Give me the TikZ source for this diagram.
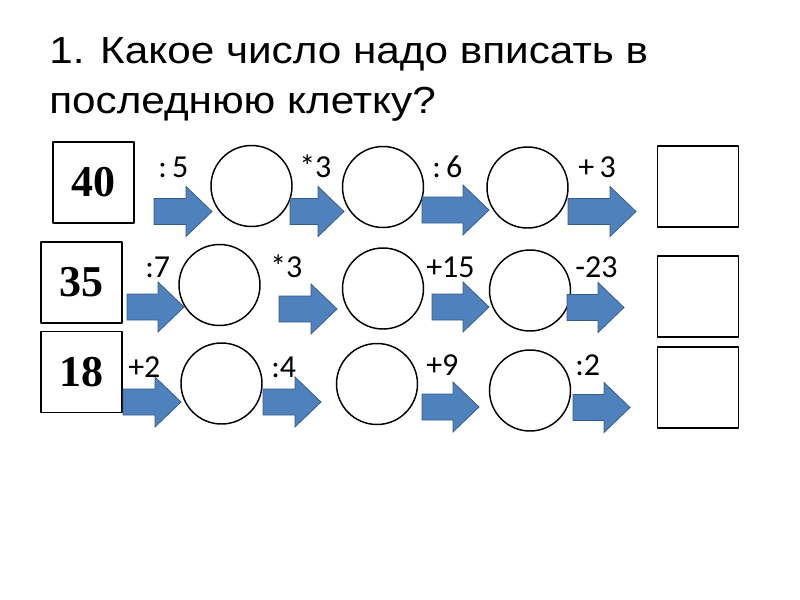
\documentclass[tikz,border=0pt]{standalone}
\usepackage{fontspec}
\setmainfont{Carlito}
\newfontfamily\titlefont{Liberation Sans}
\newfontfamily\numfont{Liberation Serif}
\definecolor{arrowblue}{HTML}{4F81BD}
\definecolor{arrowedge}{HTML}{385D8A}
\tikzset{
	ring/.style={circle, draw, line width=1.1pt, minimum size=60.75pt, inner sep=0pt},
	cell/.style={rectangle, draw, line width=1.1pt, minimum size=60.75pt, inner sep=0pt},
	startcell/.style={cell, font=\numfont\bfseries\fontsize{33}{33}\selectfont},
	oplabel/.style={anchor=base west, inner sep=0pt, font=\fontsize{24}{24}\selectfont},
	titleline/.style={anchor=base west, inner sep=0pt, xscale=1.12, font=\titlefont\fontsize{28.3}{28.3}\selectfont},
	blockfill/.style={fill=arrowblue, draw=arrowedge, line width=0.6pt, line join=miter}
}
% block arrow: tail x, tip x, centre y
\newcommand{\blockarrow}[3]{%
	\draw[blockfill] (#1,{#3-13}) -- ({#2-26},{#3-13}) -- ({#2-26},{#3-25}) -- (#2,#3)
	-- ({#2-26},{#3+25}) -- ({#2-26},{#3+13}) -- (#1,{#3+13}) -- cycle;}
\begin{document}
\begin{tikzpicture}[x=0.75pt, y=-0.75pt, line cap=round, line join=round]
	\useasboundingbox[fill=white] (0,0) rectangle (800,600);
	
	% Title
	\node[titleline] (title1) at (49,63) {1. Какое число надо вписать в};
	\node[titleline] (title2) at (49,113) {последнюю клетку?};
	
	% Starting numbers
	\node[startcell] (s1) at (93.5,182.5) {40};
	\node[startcell] (s2) at (81.5,282.5) {35};
	\node[startcell] (s3) at (81.5,372) {18};
	
	% Empty circles for intermediate results
	\foreach \name/\x/\y in {c11/251.5/186, c12/383/187, c13/527.5/187.5,
		c21/219.5/285, c22/383/288.5, c23/530/290.5,
		c31/221.5/383.5, c32/377/384, c33/530/390.5}
		\node[ring] (\name) at (\x,\y) {};
	
	% Answer cells
	\node[cell] (e1) at (698,186.5) {};
	\node[cell] (e2) at (698,296.5) {};
	\node[cell] (e3) at (698,387.5) {};
	
	% Block arrows
	\blockarrow{154}{212}{211.5}
	\blockarrow{290}{344}{211.5}
	\blockarrow{422}{489}{210}
	\blockarrow{568}{636}{211.5}
	\blockarrow{127}{184}{307}
	\blockarrow{279}{337}{309}
	\blockarrow{432}{489}{307}
	\blockarrow{567}{624}{307.5}
	\blockarrow{123}{181}{402}
	\blockarrow{263}{321}{402}
	\blockarrow{422}{479}{407}
	\blockarrow{573}{630}{407.5}
	
	% Operations
	\node[oplabel] (o11) at (158,177) {:\,5};
	\node[oplabel] (o12) at (299,177) {*3};
	\node[oplabel] (o13) at (432,177) {:\,6};
	\node[oplabel] (o14) at (578,177) {+\,3};
	\node[oplabel] (o21) at (145,277) {:7};
	\node[oplabel] (o22) at (270,277) {*3};
	\node[oplabel] (o23) at (426,277) {+15};
	\node[oplabel] (o24) at (575,277) {-23};
	\node[oplabel] (o31) at (128,377) {+2};
	\node[oplabel] (o32) at (271,377) {:4};
	\node[oplabel] (o33) at (426,375) {+9};
	\node[oplabel] (o34) at (575,375) {:2};
\end{tikzpicture}
\end{document}
